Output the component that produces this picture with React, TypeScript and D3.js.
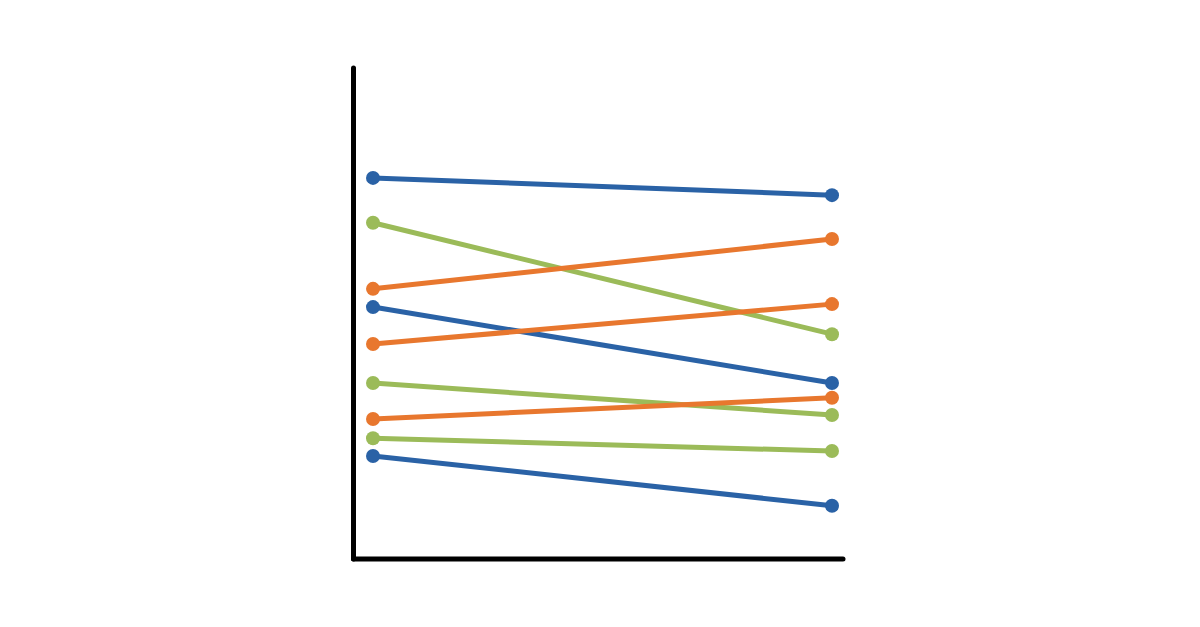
import React, { useEffect, useRef } from "react";
import * as d3 from "d3";

const periods = ["Before", "After"];
const seriesNames = ["A1", "B1", "C1", "A2", "C2", "B2", "C3", "B3", "A3"];
const seriesGroups = ["blue", "green", "orange", "blue", "orange", "green", "orange", "green", "blue"];
const startValues = [77.3, 68.2, 54.8, 51.1, 43.6, 35.7, 28.4, 24.5, 20.9];
const endValues = [73.8, 45.6, 64.9, 35.7, 51.7, 29.2, 32.7, 21.9, 10.8];

const colors: Record<string, string> = {
  blue: "#2a62a6",
  orange: "#e8772e",
  green: "#9bbb59",
};

const W = 1200;
const H = 627;

const App: React.FC = () => {
  const svgRef = useRef<SVGSVGElement>(null);

  useEffect(() => {
    const svg = d3.select(svgRef.current);
    svg.selectAll("*").remove();

    const x = d3.scalePoint().domain(periods).range([373, 832]);
    const y = d3.scaleLinear().domain([0, 100]).range([559, 66]);

    const rows = seriesNames.map((name, i) => ({
      name,
      color: colors[seriesGroups[i]],
      values: [startValues[i], endValues[i]],
    }));

    // axes (plain lines, no ticks)
    svg
      .append("line")
      .attr("x1", 353.5)
      .attr("x2", 353.5)
      .attr("y1", y(100) + 2)
      .attr("y2", y(0))
      .attr("stroke", "#000")
      .attr("stroke-width", 5)
      .attr("stroke-linecap", "round");
    svg
      .append("line")
      .attr("x1", 353.5)
      .attr("x2", 843)
      .attr("y1", y(0))
      .attr("y2", y(0))
      .attr("stroke", "#000")
      .attr("stroke-width", 5)
      .attr("stroke-linecap", "round");

    const line = d3
      .line<number>()
      .x((_, i) => x(periods[i]) as number)
      .y((d) => y(d));

    const g = svg.selectAll(".series").data(rows).enter().append("g");

    g.append("path")
      .attr("d", (d) => line(d.values))
      .attr("fill", "none")
      .attr("stroke", (d) => d.color)
      .attr("stroke-width", 5);

    g.selectAll("circle")
      .data((d) => d.values.map((v, i) => ({ v, i, color: d.color })))
      .enter()
      .append("circle")
      .attr("cx", (d) => x(periods[d.i]) as number)
      .attr("cy", (d) => y(d.v))
      .attr("r", 7)
      .attr("fill", (d) => d.color);
  }, []);

  return (
    <svg
      ref={svgRef}
      width={W}
      height={H}
      style={{ position: "absolute", left: 0, top: 0, background: "#fff" }}
    ></svg>
  );
};

export default App;
